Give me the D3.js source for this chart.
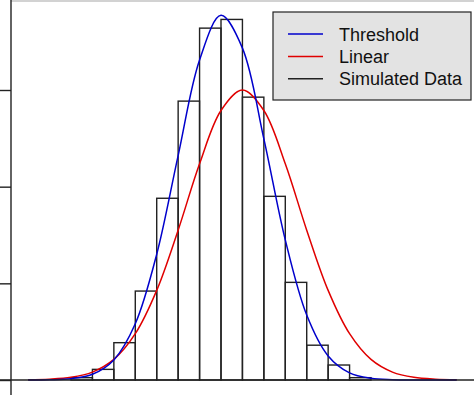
<!DOCTYPE html>
<html lang="en">
<head>
  <meta charset="utf-8">
  <title>Histogram with fits</title>
  <script src="https://d3js.org/d3.v7.min.js"></script>
  <style>
    body { margin: 0; background: #fff; }
    .bar { fill: none; stroke: #222; stroke-width: 1.4; }
    .legend text { font-family: "Liberation Sans", Arial, sans-serif; font-size: 18px; fill: #111; }
  </style>
</head>
<body>
  <script>
    var width  = 474;
    var height = 395;

    // histogram of simulated data (bin left edges + counts)
    var binStarts = [-7, -6, -5, -4, -3, -2, -1, 0, 1, 2, 3, 4, 5, 6];
    var counts    = [2.4, 11, 38.6, 92, 188, 288.5, 364, 373, 292.6, 190, 101, 36, 15.5, 2.4];

    // fitted curves, sampled
    var curveX    = [-9, -8, -7, -6, -5, -4, -3, -2, -1, 0, 1, 2, 3, 4, 5, 6, 7, 8, 9, 10, 11];
    var threshold = [0.04, 0.25, 1.36, 5.94, 20.8, 58.2, 130.1, 232.2, 331.1, 377.2, 343.3, 249.5, 144.9, 67.2, 24.9, 7.37, 1.74, 0.33, 0.05, 0.01, 0];
    var linear    = [0.19, 0.78, 2.73, 8.2, 21.3, 47.9, 92.7, 155.0, 223.7, 278.8, 300, 278.8, 223.7, 155.0, 92.7, 47.9, 21.3, 8.2, 2.73, 0.78, 0.19];

    var yTicks = [0, 100, 200, 300];
    var legendLabels = ["Threshold", "Linear", "Simulated Data"];
    var legendColors = ["#0000cc", "#e00000", "#222"];

    var svg = d3.select("body")
      .append("svg")
      .attr("width", width)
      .attr("height", height);

    var x = d3.scaleLinear().domain([-7, 7]).range([71, 371]);
    var y = d3.scaleLinear().domain([0, 300]).range([380, 90]);

    var axisX = x(-9.8);

    // faint top border
    svg.append("rect")
      .attr("x", axisX).attr("y", 0)
      .attr("width", width - axisX).attr("height", 2)
      .attr("fill", "#d2d2d2");

    // bars
    svg.append("g").selectAll("rect")
      .data(binStarts)
      .enter()
      .append("rect")
      .attr("class", "bar")
      .attr("x", function(d) { return x(d); })
      .attr("width", function(d) { return x(d + 1) - x(d); })
      .attr("y", function(d, i) { return y(counts[i]); })
      .attr("height", function(d, i) { return y(0) - y(counts[i]); });

    var line = d3.line()
      .x(function(d) { return x(d[0]); })
      .y(function(d) { return y(d[1]); })
      .curve(d3.curveCatmullRom);

    svg.append("path")
      .datum(d3.zip(curveX, linear))
      .attr("fill", "none")
      .attr("stroke", "#e00000")
      .attr("stroke-width", 1.5)
      .attr("d", line);

    svg.append("path")
      .datum(d3.zip(curveX, threshold))
      .attr("fill", "none")
      .attr("stroke", "#0000cc")
      .attr("stroke-width", 1.5)
      .attr("d", line);

    // baseline
    svg.append("line")
      .attr("x1", 0).attr("x2", width)
      .attr("y1", y(0)).attr("y2", y(0))
      .attr("stroke", "#222").attr("stroke-width", 1.4);

    // y axis, labels cropped off
    var yAxis = svg.append("g")
      .attr("transform", "translate(" + axisX + ",0)")
      .call(d3.axisLeft(y).tickValues(yTicks).tickSize(11).tickFormat(""));
    yAxis.select(".domain").remove();
    yAxis.selectAll(".tick line").attr("stroke", "#222").attr("stroke-width", 1.4);

    svg.append("line")
      .attr("x1", axisX).attr("x2", axisX)
      .attr("y1", 0).attr("y2", height)
      .attr("stroke", "#222").attr("stroke-width", 1.4);

    // legend
    var legend = svg.append("g").attr("class", "legend");
    legend.append("rect")
      .attr("x", 273).attr("y", 12)
      .attr("width", 198).attr("height", 88)
      .attr("fill", "#e3e3e3")
      .attr("stroke", "#222").attr("stroke-width", 1.2);

    var item = legend.selectAll("g.item")
      .data(legendLabels)
      .enter()
      .append("g")
      .attr("class", "item")
      .attr("transform", function(d, i) { return "translate(0," + (34 + i * 22.4) + ")"; });

    item.append("line")
      .attr("x1", 288).attr("x2", 323)
      .attr("stroke", function(d, i) { return legendColors[i]; })
      .attr("stroke-width", 1.5);

    item.append("text")
      .attr("x", 339).attr("y", 6.5)
      .text(function(d) { return d; });
  </script>
</body>
</html>
